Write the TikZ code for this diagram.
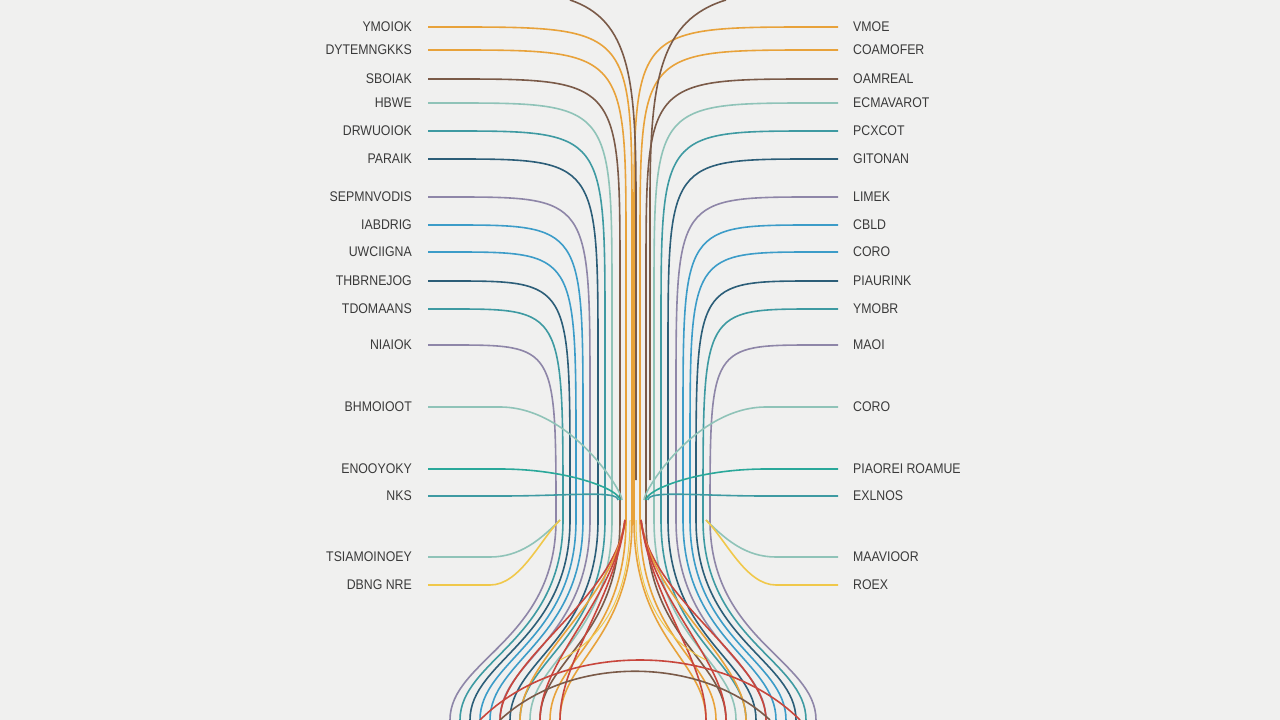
\documentclass[tikz,border=0pt]{standalone}
\usepackage{fontspec}
\setmainfont{Liberation Sans}[FakeStretch=0.88]
\definecolor{bg}{HTML}{F0F0EF}
\definecolor{tx}{HTML}{3A3A3A}
\definecolor{cOr}{HTML}{E8A23A}
\definecolor{cBr}{HTML}{7A5A48}
\definecolor{cLt}{HTML}{8FC3B8}
\definecolor{cTe}{HTML}{3E9AA2}
\definecolor{cDb}{HTML}{2C5E78}
\definecolor{cPu}{HTML}{8E86A8}
\definecolor{cBl}{HTML}{3C9CC8}
\definecolor{cGn}{HTML}{2AA89A}
\definecolor{cYe}{HTML}{F0C84A}
\definecolor{cRe}{HTML}{C8463C}
\begin{document}
\begin{tikzpicture}[x=1pt,y=-1pt,
  lab/.style={text=tx,font=\fontsize{14}{16}\selectfont,inner sep=0pt},
  wire/.style={line width=1.6pt}]
\fill[bg] (0,0) rectangle (1280,720);
\useasboundingbox (0,0) rectangle (1280,720);
% upper rows
\foreach \y/\c/\tl/\tr/\xv/\xb [count=\i] in {
 27/cOr/YMOIOK/VMOE/632/560,
 50/cOr/DYTEMNGKKS/COAMOFER/626/550,
 79/cBr/SBOIAK/OAMREAL/620/540,
 103/cLt/HBWE/ECMAVAROT/612/530,
 131/cTe/DRWUOIOK/PCXCOT/605/520,
 159/cDb/PARAIK/GITONAN/598/510,
 197/cPu/SEPMNVODIS/LIMEK/590/500,
 225/cBl/IABDRIG/CBLD/583/490,
 252/cBl/UWCIIGNA/CORO/576/480,
 281/cDb/THBRNEJOG/PIAURINK/570/470,
 309/cTe/TDOMAANS/YMOBR/563/460,
 345/cPu/NIAIOK/MAOI/556/450}{
  \node[lab,anchor=east] (L\i) at (412,\y) {\tl};
  \node[lab,anchor=west] (R\i) at (853,\y) {\tr};
  \coordinate (ls\i) at (428,\y);
  \coordinate (rs\i) at (838,\y);
  \pgfmathsetmacro\yy{min(\y+200,520)}
  \pgfmathsetmacro\xr{1266-\xv}
  \pgfmathsetmacro\xbr{1266-\xb}
  \draw[wire,\c] (ls\i) -- (450,\y) .. controls (\xv,\y) .. (\xv,\yy) -- (\xv,520) .. controls (\xv,640) and (\xb,660) .. (\xb,720);
  \draw[wire,\c] (rs\i) -- (816,\y) .. controls (\xr,\y) .. (\xr,\yy) -- (\xr,520) .. controls (\xr,640) and (\xbr,660) .. (\xbr,720);
}
% lower rows
\foreach \y/\c/\tl/\tr/\xe [count=\i from 13] in {
 407/cLt/BHMOIOOT/CORO/622,
 469/cGn/ENOOYOKY/PIAOREI ROAMUE/620,
 496/cTe/NKS/EXLNOS/618}{
  \node[lab,anchor=east] (L\i) at (412,\y) {\tl};
  \node[lab,anchor=west] (R\i) at (853,\y) {\tr};
  \coordinate (ls\i) at (428,\y);
  \coordinate (rs\i) at (838,\y);
  \pgfmathsetmacro\xr{1266-\xe}
  \draw[wire,\c] (ls\i) -- (500,\y) .. controls (570,\y) and (\xe,490) .. (\xe,500);
  \draw[wire,\c] (rs\i) -- (766,\y) .. controls (696,\y) and (\xr,490) .. (\xr,500);
}
\foreach \y/\c/\tl/\tr [count=\i from 16] in {
 557/cLt/TSIAMOINOEY/MAAVIOOR,
 585/cYe/DBNG NRE/ROEX}{
  \node[lab,anchor=east] (L\i) at (412,\y) {\tl};
  \node[lab,anchor=west] (R\i) at (853,\y) {\tr};
  \coordinate (ls\i) at (428,\y);
  \coordinate (rs\i) at (838,\y);
  \draw[wire,\c] (ls\i) -- (490,\y) .. controls (520,\y) and (540,540) .. (560,520);
  \draw[wire,\c] (rs\i) -- (776,\y) .. controls (746,\y) and (726,540) .. (706,520);
}
% red/orange strands from centre
\foreach \xb/\c in {500/cRe,520/cOr,540/cRe,560/cRe}{
  \pgfmathsetmacro\xbr{1266-\xb}
  \draw[wire,\c] (625,520) .. controls (615,600) and (\xb,660) .. (\xb,720);
  \draw[wire,\c] (641,520) .. controls (651,600) and (\xbr,660) .. (\xbr,720);
}
\draw[wire,cYe,line width=1pt] (630,520) .. controls (630,600) and (600,640) .. (560,660);
\draw[wire,cYe,line width=1pt] (636,520) .. controls (636,600) and (666,640) .. (706,660);
% top strands
\draw[wire,cBr] (570,0) .. controls (630,20) and (636,80) .. (636,200) -- (636,480);
\draw[wire,cBr] (726,0) .. controls (660,20) and (650,80) .. (650,200) -- (650,480);
% bottom arc
\draw[wire,cRe] (480,720) .. controls (560,640) and (720,640) .. (800,720);
\draw[wire,cBr] (500,720) .. controls (570,655) and (700,655) .. (770,720);
\end{tikzpicture}
\end{document}
